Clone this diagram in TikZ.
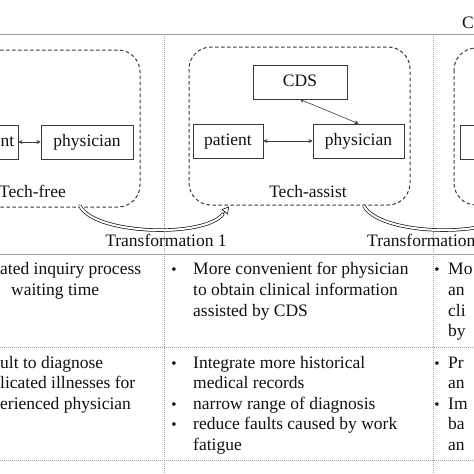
\documentclass[tikz,border=0pt]{standalone}
\usepackage{fontspec}
\setmainfont{Liberation Serif}
\usetikzlibrary{arrows.meta}
\definecolor{rulegray}{HTML}{9A9A9A}
\definecolor{dotgray}{HTML}{A0A0A0}
\definecolor{boxline}{HTML}{3A3A3A}
\definecolor{ink}{HTML}{111111}
\begin{document}
\begin{tikzpicture}[x=1pt,y=-1pt,
  every node/.style={font=\fontsize{17.5}{20.5}\selectfont, text=ink},
  txt/.style={anchor=base west, inner sep=0pt},
  ctxt/.style={anchor=base, inner sep=0pt},
  bul/.style={anchor=base, inner sep=0pt, font=\fontsize{15}{20.5}\selectfont},
  actor/.style={draw=boxline, line width=0.8pt, minimum height=34pt, text height=12.5pt, text depth=4pt, inner sep=0pt},
  region/.style={draw=boxline, dash pattern=on 3.5pt off 2.5pt, line width=1pt, rounded corners=22pt},
  link/.style={{Stealth[length=4pt,width=4pt]}-{Stealth[length=4pt,width=4pt]}, line width=0.6pt, draw=boxline},
  hrule/.style={draw=rulegray, line width=1pt},
  drule/.style={draw=dotgray, line width=0.7pt, dash pattern=on 1pt off 1pt},
  trans/.style={draw=ink, line width=0.7pt, double=white, double distance=2pt, line cap=round},
  transhead/.style={-{Triangle[open,length=7pt,width=8pt]}, draw=ink, line width=0.6pt}
]
\useasboundingbox (0,0) rectangle (474,474);
\clip (0,0) rectangle (474,474);

% table rules
\draw[hrule] (0,34) -- (474,34);
\draw[hrule] (0,254) -- (474,254);
\draw[drule] (0,347) -- (474,347);
\draw[drule] (0,460) -- (474,460);
\draw[drule] (164,34) -- (164,474);
\draw[drule] (433,34) -- (433,474);

% header fragment
\node[txt] (ttl) at (462,28) {C};

% dashed regions
\draw[region] (-120,50) rectangle (140,207);
\draw[region] (189,47) rectangle (410,205);
\draw[region] (454,48) rectangle (620,205);

% region 1
\node[actor, minimum width=70pt] (pat1) at (-17,142) {};
\node[ctxt] (pat1t) at (7.5,146.3) {nt};
\node[actor, minimum width=92pt] (phys1) at (87,142) {physician};
\draw[link] (pat1) -- (phys1);
\node[anchor=base east, inner sep=0pt] (lab1) at (66,197) {Tech-free};

% region 2
\node[actor, minimum width=94pt] (cds) at (300,82) {CDS};
\node[actor, minimum width=70pt] (pat2) at (228,141) {patient};
\node[actor, minimum width=91pt] (phys2) at (358.5,141) {physician};
\draw[link] (pat2) -- (phys2);
\draw[link] (cds.south) -- (phys2.north);
\node[ctxt] (lab2) at (308,197) {Tech-assist};

% region 3
\node[actor, minimum width=80pt] (n3) at (500,142) {};

% transformation arrows
\coordinate (t1s) at (80,206);
\coordinate (t1e) at (223,214);
\coordinate (t1t) at (229,206.5);
\draw[trans] (t1s) .. controls (95,235) and (205,238) .. (t1e);
\draw[transhead] (t1e) -- (t1t);
\node[ctxt] (tr1) at (166,246) {Transformation 1};

\coordinate (t2s) at (364,206);
\coordinate (t2e) at (507,214);
\coordinate (t2t) at (513,206.5);
\draw[trans] (t2s) .. controls (379,235) and (489,238) .. (t2e);
\draw[transhead] (t2e) -- (t2t);
\node[txt] (tr2) at (367,246) {Transformation};

% row 1
\node[txt] (a1) at (0,274) {ated inquiry process};
\node[txt] (a2) at (11,295) {waiting time};
\node[bul] (b1) at (174,274) {•};
\node[txt] (b1a) at (193,274) {More convenient for physician};
\node[txt] (b1b) at (193,295) {to obtain clinical information};
\node[txt] (b1c) at (193,316) {assisted by CDS};
\node[bul] (c1) at (437,274) {•};
\node[txt] (c1a) at (448,274) {Mo};
\node[txt] (c1b) at (448,295) {an};
\node[txt] (c1c) at (448,316) {cli};
\node[txt] (c1d) at (448,336) {by};

% row 2
\node[txt] (a3) at (0,368) {ult to diagnose};
\node[txt] (a4) at (0,388.5) {licated illnesses for};
\node[txt] (a5) at (0,409) {erienced physician};
\node[bul] (b2) at (174,368) {•};
\node[txt] (b2a) at (193,368) {Integrate more historical};
\node[txt] (b2b) at (193,388.5) {medical records};
\node[bul] (b3) at (174,409) {•};
\node[txt] (b3a) at (193,409) {narrow range of diagnosis};
\node[bul] (b4) at (174,429.5) {•};
\node[txt] (b4a) at (193,429.5) {reduce faults caused by work};
\node[txt] (b4b) at (193,450) {fatigue};
\node[bul] (c2) at (437,368) {•};
\node[txt] (c2a) at (448,368) {Pr};
\node[txt] (c2b) at (448,388.5) {an};
\node[bul] (c3) at (437,409) {•};
\node[txt] (c3a) at (448,409) {Im};
\node[txt] (c3b) at (448,429.5) {ba};
\node[txt] (c3c) at (448,450) {an};
\end{tikzpicture}
\end{document}
